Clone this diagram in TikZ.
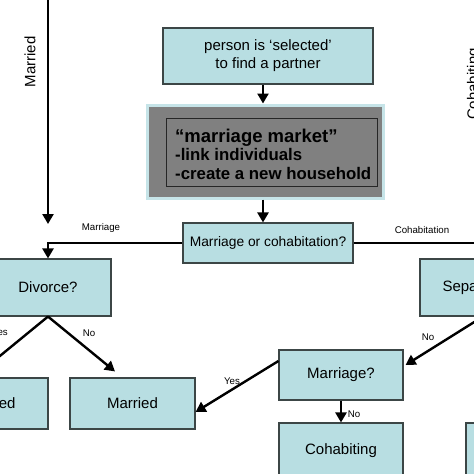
\documentclass[tikz,border=0pt]{standalone}
\usepackage{fontspec}
\setmainfont{Liberation Sans}
\usetikzlibrary{arrows.meta,calc}
\definecolor{boxfill}{HTML}{B8DEE2}
\definecolor{boxline}{HTML}{3C4646}
\definecolor{mgray}{HTML}{808080}
\definecolor{mborder}{HTML}{C6E4E8}
\tikzset{
 bx/.style={draw=boxline,line width=1.1pt,fill=boxfill,inner sep=0pt,font=\fontsize{15}{18}\selectfont,align=center},
 arr/.style={line width=2.4pt,-{Triangle[length=10pt,width=11pt]}},
 ln/.style={line width=2.4pt},
 lbl/.style={font=\fontsize{9.7}{11}\selectfont,inner sep=0pt},
 vlbl/.style={font=\fontsize{15}{18}\selectfont,inner sep=0pt,rotate=90},
}
\begin{document}
\begin{tikzpicture}[x=1pt,y=-1pt]
\useasboundingbox (0,0) rectangle (474,474);
\clip (0,0) rectangle (474,474);
% boxes
\node[bx,minimum width=210pt,minimum height=56pt] (top) at (268,56) {person is ‘selected’\\to find a partner};
\node[draw=mborder,line width=3pt,fill=mgray,minimum width=236pt,minimum height=93pt,inner sep=0pt] (gm) at (265,151.5) {};
\node[draw=black!85,line width=1pt,minimum width=211pt,minimum height=68pt,inner sep=0pt] (gmi) at (271.5,152) {};
\node[anchor=west,align=left,inner sep=0pt,font=\bfseries\fontsize{16.8}{18.5}\selectfont] (gmt) at (175,154)
  {{\fontsize{18.5}{18.5}\selectfont “marriage market”}\\-link individuals\\-create a new household};
\node[bx,font=\fontsize{13.8}{16}\selectfont,minimum width=170pt,minimum height=40pt] (moc) at (268,243) {Marriage or cohabitation?};
\node[bx,minimum width=126pt,minimum height=57pt] (div) at (48,287.5) {Divorce?};
\node[bx,minimum width=126pt,minimum height=57pt] (sep) at (483,287.5) {Separation?};
\node[bx,minimum width=124pt,minimum height=51pt] (divd) at (-14,403.5) {Divorced};
\node[bx,minimum width=125pt,minimum height=51pt] (mar) at (132.5,403.5) {Married};
\node[bx,minimum width=124pt,minimum height=50pt] (mq) at (341,375) {Marriage?};
\node[bx,minimum width=124pt,minimum height=56pt] (coh) at (341,451) {Cohabiting};
\node[bx,minimum width=124pt,minimum height=56pt] (rb) at (528,451) {};
% coordinates
\coordinate (ltop) at (48,-5);
\coordinate (lend) at (48,224);
\coordinate (rtop) at (483,-5);
\coordinate (rend) at (483,224);
% connectors
\draw[arr] (ltop) -- (lend);
\draw[arr] (rtop) -- (rend);
\draw[arr] ([xshift=-5pt]top.south) -- ([xshift=-2pt]gm.north);
\draw[arr] ([xshift=-2pt]gm.south) -- ([xshift=-5pt]moc.north);
\draw[arr] (moc.west) -| (div.north);
\draw[arr] (moc.east) -| (sep.north);
\draw[arr] (div.south) -- ($(divd.north)+(-5,-6)$);
\draw[arr] (div.south) -- ($(mar.north)+(-17.5,-6)$);
\draw[arr] (sep.south) -- ($(mq.east)+(2,-10)$);
\draw[arr] ($(mq.west)+(0,-14)$) -- ($(mar.east)+(0,8.5)$);
\draw[arr] (mq.south) -- (coh.north);
% labels
\node[vlbl] (lmar) at (30,62) {Married};
\node[vlbl] (lcoh) at (474,84) {Cohabiting};
\node[lbl] (l1) at (101,228) {Marriage};
\node[lbl] (l2) at (422,230) {Cohabitation};
\node[lbl,anchor=east] (l3) at (8,332) {Yes};
\node[lbl] (l4) at (89,333) {No};
\node[lbl] (l5) at (428,337) {No};
\node[lbl] (l6) at (232,381) {Yes};
\node[lbl] (l7) at (354,414) {No};
\end{tikzpicture}
\end{document}
